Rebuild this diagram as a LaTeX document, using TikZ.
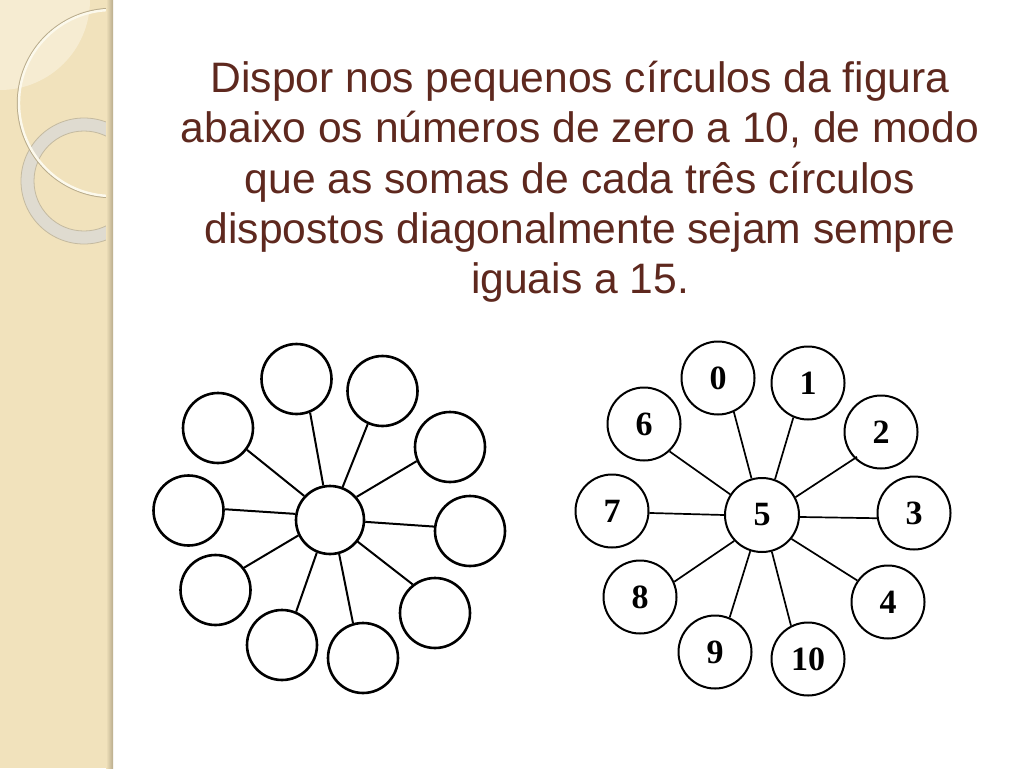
\documentclass[tikz,border=0pt]{standalone}
\usepackage{fontspec}
\setmainfont{Liberation Sans}
\newfontfamily\numfont{Liberation Serif}
\definecolor{titlec}{RGB}{94,40,30}
\definecolor{stripc}{RGB}{241,226,188}
\definecolor{stripl}{RGB}{246,236,210}
\definecolor{ringc}{RGB}{223,219,208}
\definecolor{ringe}{RGB}{196,186,160}
\definecolor{edgec}{RGB}{185,172,140}
\definecolor{creamline}{RGB}{252,249,236}
\begin{document}
\begin{tikzpicture}[x=1pt,y=-1pt,
  lcirc/.style={circle,draw=black,line width=2.6pt,minimum size=70pt,inner sep=0pt},
  lhub/.style={lcirc,minimum size=68pt},
  rcirc/.style={circle,draw=black,line width=2pt,minimum size=73pt,inner sep=0pt,font=\numfont\bfseries\fontsize{34}{34}\selectfont},
  rhub/.style={rcirc,minimum size=74pt},
  lspoke/.style={line width=2pt},
  rspoke/.style={line width=1.7pt},
  titleline/.style={anchor=base,text=titlec,font=\fontsize{42.6}{48}\selectfont,inner sep=0pt}]
\useasboundingbox (0,0) rectangle (1024,768);
\fill[white] (0,0) rectangle (1024,768);
% decorative strip
\begin{scope}
\clip (0,0) rectangle (112,768);
\fill[stripc] (0,0) rectangle (112,768);
\fill[stripl] (0,0) circle (90);
\fill[ringc,even odd rule] (84,181) circle (63) (84,181) circle (50);
\draw[ringe,line width=0.8pt] (84,181) circle (63) (84,181) circle (50);
\draw[edgec,line width=1.2pt] (112,103) circle (94.6);
\draw[creamline,line width=2.4pt] (112,103) circle (93);
\end{scope}
\shade[left color=stripc,right color=edgec] (106,0) rectangle (113,768);
% title
\node[titleline] (t1) at (580,92) {Dispor nos pequenos círculos da figura};
\node[titleline] (t2) at (580,142.5) {abaixo os números de zero a 10, de modo};
\node[titleline] (t3) at (580,193) {que as somas de cada três círculos};
\node[titleline] (t4) at (580,243) {dispostos diagonalmente sejam sempre};
\node[titleline] (t5) at (580,293) {iguais a 15.};
% left figure
\node[lhub] (L) at (330,520) {};
\node[lcirc] (l1) at (296.5,379) {};
\node[lcirc] (l2) at (382.5,391) {};
\node[lcirc] (l3) at (450,447) {};
\node[lcirc] (l4) at (470,531) {};
\node[lcirc] (l5) at (435,613) {};
\node[lcirc] (l6) at (363,658) {};
\node[lcirc] (l7) at (282,645) {};
\node[lcirc] (l8) at (215.5,590) {};
\node[lcirc] (l9) at (188.5,510.5) {};
\node[lcirc] (l10) at (218,428) {};
\draw[lspoke] (L.101) -- (l1.-68);
\draw[lspoke] (L.69) -- (l2.-114);
\draw[lspoke] (L.41) -- (l3.-157);
\draw[lspoke] (L.-3) -- (l4.173);
\draw[lspoke] (L.-38) -- (l5.128);
\draw[lspoke] (L.-75) -- (l6.106);
\draw[lspoke] (L.-112) -- (l7.67);
\draw[lspoke] (L.-154) -- (l8.38);
\draw[lspoke] (L.170) -- (l9.2);
\draw[lspoke] (L.137) -- (l10.-37);
% right figure
\node[rhub] (R) at (762,515) {5};
\node[rcirc] (r0) at (718,378) {0};
\node[rcirc] (r1) at (808,383) {1};
\node[rcirc] (r2) at (881,432) {2};
\node[rcirc] (r3) at (914,513) {3};
\node[rcirc] (r4) at (888,602) {4};
\node[rcirc] (r10) at (808,659) {10};
\node[rcirc] (r9) at (715,652) {9};
\node[rcirc] (r8) at (640,597) {8};
\node[rcirc] (r7) at (612,511) {7};
\node[rcirc] (r6) at (644,424) {6};
\draw[rspoke] (R.106) -- (r0.-65);
\draw[rspoke] (R.70) -- (r1.-113);
\draw[rspoke,shorten >=-3pt] (R.28) -- (r2.-135);
\draw[rspoke] (R.-3) -- (r3.-172);
\draw[rspoke] (R.-39) -- (r4.145);
\draw[rspoke] (R.-75) -- (r10.117);
\draw[rspoke] (R.-108) -- (r9.67);
\draw[rspoke] (R.-137) -- (r8.24);
\draw[rspoke] (R.180) -- (r7.-3);
\draw[rspoke] (R.147) -- (r6.-47);
\end{tikzpicture}
\end{document}
